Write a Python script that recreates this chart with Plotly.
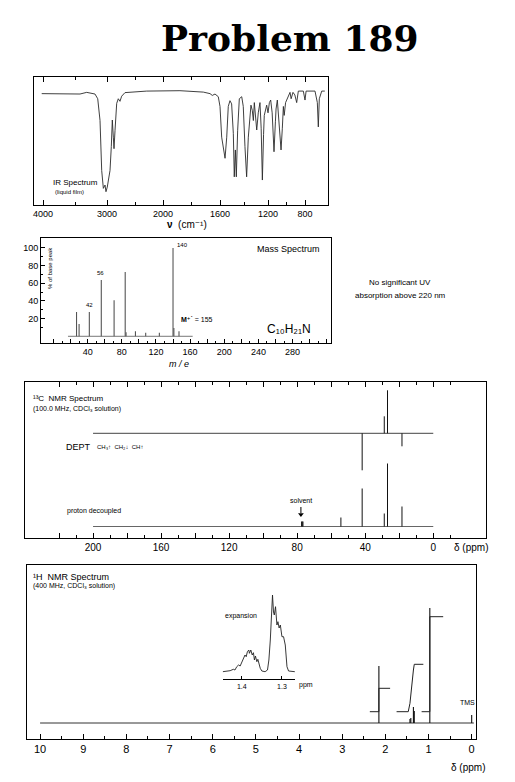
import numpy as np
import plotly.graph_objects as go

W, H = 515, 782

# ---------------- data ----------------
# IR spectrum (wavenumber cm-1, % transmittance)
ir_wavenumber = [4020, 3683, 3422, 3317, 3188, 3145, 3109, 3083, 3057, 3031, 3016, 2995, 2970,
                 2946, 2923, 2905, 2887, 2875, 2857, 2827, 2798, 2768, 2738, 2679, 2291, 1881,
                 1717, 1670, 1654, 1635, 1612, 1600, 1586, 1572, 1558, 1544, 1531, 1517, 1503,
                 1489, 1481, 1472, 1464, 1453, 1439, 1419, 1406, 1392, 1378, 1364, 1350, 1342,
                 1331, 1322, 1314, 1294, 1281, 1267, 1257, 1247, 1237, 1231, 1211, 1200, 1185,
                 1171, 1155, 1135, 1120, 1113, 1099, 1087, 1077, 1059, 1045, 1034, 1025, 1010,
                 998, 980, 962, 950, 930, 910, 890, 872, 818, 800, 790, 709, 688, 679, 670, 648, 620]
ir_transmittance = [87, 86.7, 86.7, 88, 86.7, 83, 66, 27, 13, 15.6, 10.4, 14, 19.5,
                    27, 45.6, 66.4, 53, 44, 58, 79.4, 83, 81, 85, 87.8, 89, 89.3,
                    88.2, 87, 85.6, 86.7, 84.6, 77, 53, 43, 36.5, 53, 77, 81.5, 79,
                    56, 22, 43, 22, 58, 83, 84.6, 77, 45.6, 22, 53, 74, 78,
                    74, 66, 80, 58.6, 72, 80, 60, 19.5, 55, 70, 78, 72, 80,
                    82, 72, 41.6, 65, 75, 82, 72, 64, 43, 60, 77, 70, 80,
                    82, 84.6, 88, 83, 88, 86, 80, 89, 89, 82, 89, 89, 80, 61, 83, 89, 89]
ir_tick_values = [4000, 3000, 2000, 1600, 1200, 800]
ir_minor_values = [3500, 2500, 1800, 1400, 1000]
# non-linear wavenumber scale of the chart (knots)
ir_scale_nu = [4140, 4000, 3000, 2000, 1600, 1200, 800, 591]
ir_scale_u = [0, 9, 73, 129, 186, 234, 271, 294]

# Mass spectrum (m/e, % of base peak)
ms_mz = [27, 30, 42, 56, 71, 84, 85, 96, 108, 124, 140, 141, 147]
ms_int = [27.5, 14, 27.5, 63.7, 40.8, 72.8, 4.5, 5.7, 4, 4, 100, 9.4, 5.7]
ms_tick_labels = [40, 80, 120, 160, 200, 240, 280]

# 13C NMR
c13_shift = [54.3, 41.8, 28.8, 26.9, 18.4]
c13_int = [9, 38, 13, 63, 20]
c13_solvent_shift = [77.4, 77.0, 76.6]
c13_solvent_int = [5, 5, 5]
dept_shift = [41.8, 28.8, 26.9, 18.4]
dept_int = [-37, 17, 43, -13]
c13_tick_labels = [200, 160, 120, 80, 40, 0]

# 1H NMR
h_shift = [2.15, 1.43, 1.41, 1.35, 1.33, 0.97, 0.0]
h_int = [57, 4, 5, 16, 12, 115, 8]
integral1_x = [2.36, 2.15, 2.15, 1.89]
integral1_y = [0, 0, 23.4, 23.4]
integral2_x = [1.74, 1.47, 1.43, 1.41, 1.38, 1.35, 1.33, 1.12]
integral2_y = [0, 0, 8.4, 18.4, 28.4, 41.7, 47.4, 47.4]
integral3_x = [1.16, 0.97, 0.97, 0.66]
integral3_y = [0, 0, 95, 95]
h_tick_labels = list(range(0, 11))

# expansion 1.45-1.25 ppm
exp_shift = [1.4475, 1.429, 1.421, 1.417, 1.4125, 1.408, 1.404, 1.400, 1.396, 1.392, 1.389,
             1.386, 1.3825, 1.381, 1.3775, 1.374, 1.371, 1.3685, 1.366, 1.3625, 1.360, 1.3575,
             1.354, 1.350, 1.342, 1.336, 1.3325, 1.329, 1.326, 1.3235, 1.321, 1.319, 1.316,
             1.3125, 1.310, 1.307, 1.304, 1.300, 1.296, 1.2917, 1.2875, 1.2835, 1.268]
exp_int = [0, 1, 2.4, 1.7, 5, 6.7, 5.7, 10, 12.4, 16.7, 15,
           20, 21.7, 18.4, 21.7, 16.7, 19, 11.7, 15.7, 10, 12.4, 8.4,
           3.4, 0.7, 0, 1.7, 11.7, 31.7, 55, 76.7, 59.7, 56.7, 65,
           46.7, 50, 43.7, 46.7, 35, 35, 26.7, 5, 0.7, 0]

# ---------------- helpers ----------------
def dx(px):
    return px / W

def dy(py):
    return 1 - py / H

def ir_pos(nu):
    return np.interp(-np.asarray(nu, float), -np.array(ir_scale_nu, float), ir_scale_u)

def sticks(xs, hs, base=0.0):
    X, Y = [], []
    for x, h in zip(xs, hs):
        X += [x, x, None]
        Y += [base, base + h, None]
    return X, Y

FONT = "Liberation Sans, DejaVu Sans, Arial, sans-serif"
fig = go.Figure()

# IR
fig.add_trace(go.Scatter(x=ir_pos(ir_wavenumber), y=ir_transmittance, mode="lines",
                         line=dict(color="#2a2a2a", width=0.9), xaxis="x", yaxis="y",
                         hoverinfo="skip"))
# MS
mx, my = sticks(ms_mz, ms_int, 0.0)
fig.add_trace(go.Scatter(x=[17, 163], y=[0, 0], mode="lines", line=dict(color="#777", width=1),
                         xaxis="x2", yaxis="y2"))
fig.add_trace(go.Scatter(x=mx, y=my, mode="lines", line=dict(color="#555", width=1.1),
                         xaxis="x2", yaxis="y2"))
# 13C decoupled
DEC_BASE = 11.5
DEPT_BASE = 104.7
cx, cy = sticks(c13_shift, c13_int, DEC_BASE)
sx, sy = sticks(c13_solvent_shift, c13_solvent_int, DEC_BASE)
fig.add_trace(go.Scatter(x=[200, 0], y=[DEC_BASE, DEC_BASE], mode="lines",
                         line=dict(color="#666", width=1), xaxis="x3", yaxis="y3"))
fig.add_trace(go.Scatter(x=cx + sx, y=cy + sy, mode="lines", line=dict(color="#111", width=1),
                         xaxis="x3", yaxis="y3"))
# DEPT
ddx, ddy = sticks(dept_shift, dept_int, DEPT_BASE)
fig.add_trace(go.Scatter(x=[200, 0], y=[DEPT_BASE, DEPT_BASE], mode="lines",
                         line=dict(color="#444", width=1), xaxis="x3", yaxis="y3"))
fig.add_trace(go.Scatter(x=ddx, y=ddy, mode="lines", line=dict(color="#111", width=1),
                         xaxis="x3", yaxis="y3"))
# solvent arrow (stem + head) on the 13C axes
fig.add_trace(go.Scatter(x=[77.8, 77.8], y=[31, 25], mode="lines", line=dict(color="black", width=1),
                         xaxis="x3", yaxis="y3"))
fig.add_trace(go.Scatter(x=[77.8], y=[23.5], mode="markers",
                         marker=dict(symbol="triangle-down", size=5, color="black"),
                         xaxis="x3", yaxis="y3"))
# 1H
H_BASE = 16.0
INT_BASE = 27.3
hx, hy = sticks(h_shift, h_int, H_BASE)
fig.add_trace(go.Scatter(x=[10, -0.05], y=[H_BASE, H_BASE], mode="lines",
                         line=dict(color="#333", width=1), xaxis="x4", yaxis="y4"))
fig.add_trace(go.Scatter(x=hx, y=hy, mode="lines", line=dict(color="#111", width=1.1),
                         xaxis="x4", yaxis="y4"))
for ix, iy in [(integral1_x, integral1_y), (integral2_x, integral2_y), (integral3_x, integral3_y)]:
    fig.add_trace(go.Scatter(x=ix, y=[INT_BASE + v for v in iy], mode="lines",
                             line=dict(color="#222", width=1), xaxis="x4", yaxis="y4"))
# expansion
fig.add_trace(go.Scatter(x=exp_shift, y=exp_int, mode="lines", line=dict(color="#222", width=0.9),
                         xaxis="x5", yaxis="y5"))
# dummy traces so the overlay tick axes are drawn
fig.add_trace(go.Scatter(x=[100], y=[-50], mode="markers", opacity=0, xaxis="x6", yaxis="y3"))
fig.add_trace(go.Scatter(x=[100], y=[-50], mode="markers", opacity=0, xaxis="x7", yaxis="y2"))

axis_common = dict(showline=True, linecolor="black", linewidth=1, showgrid=False, zeroline=False,
                   tickfont=dict(family=FONT, size=9, color="black"), tickcolor="black")

layout = dict(
    width=W, height=H, margin=dict(l=0, r=0, t=0, b=0),
    paper_bgcolor="white", plot_bgcolor="white", showlegend=False,
    xaxis=dict(axis_common, domain=[dx(34), dx(328)], range=[0, 294], anchor="y",
               tickmode="array", tickvals=list(ir_pos(ir_tick_values)),
               ticktext=[str(v) for v in ir_tick_values], ticks="inside", ticklen=5,
               mirror="allticks",
               minor=dict(tickmode="array", tickvals=list(ir_pos(ir_minor_values)),
                          ticks="inside", ticklen=3, tickcolor="black")),
    yaxis=dict(axis_common, domain=[dy(205), dy(77)], range=[0, 100], anchor="x",
               showticklabels=False, ticks="", mirror=True),
    xaxis2=dict(axis_common, domain=[dx(41), dx(331)], range=[-14.6, 325], anchor="y2",
                tickmode="array", tickvals=ms_tick_labels,
                ticks="inside", ticklen=4, mirror=True,
                minor=dict(tickmode="array", tickvals=list(range(10, 321, 20)), ticks="inside",
                           ticklen=2, tickcolor="black")),
    xaxis7=dict(domain=[dx(41), dx(331)], range=[-14.6, 325], anchor="y2", overlaying="x2",
                tickmode="array", tickvals=[0, 20, 60, 100, 140, 180, 220, 260, 300, 320],
                ticks="inside", ticklen=4, tickcolor="black", showticklabels=False,
                showline=False, showgrid=False, zeroline=False),
    yaxis2=dict(axis_common, domain=[dy(343), dy(238)], range=[-7.6, 111.3], anchor="x2",
                tickmode="array", tickvals=[20, 40, 60, 80, 100], ticks="inside", ticklen=4,
                mirror=True,
                minor=dict(tickmode="array", tickvals=[10, 30, 50, 70, 90], ticks="inside",
                           ticklen=2, tickcolor="black")),
    xaxis3=dict(axis_common, domain=[dx(25), dx(486)], range=[240, -31], anchor="y3",
                tickmode="array", tickvals=c13_tick_labels,
                ticks="inside", ticklen=5, mirror="allticks",
                tickfont=dict(family=FONT, size=10, color="black"),
                minor=dict(tickmode="array", tickvals=list(range(-10, 221, 20)), ticks="inside",
                           ticklen=3, tickcolor="black")),
    xaxis6=dict(domain=[dx(25), dx(486)], range=[240, -31], anchor="y3", overlaying="x3",
                tickmode="array", tickvals=[220, 180, 140, 100, 60, 20],
                ticks="inside", ticklen=5, tickcolor="black", showticklabels=False,
                showline=False, showgrid=False, zeroline=False, mirror="allticks"),
    yaxis3=dict(axis_common, domain=[dy(538), dy(382)], range=[0, 156], anchor="x3",
                showticklabels=False, ticks="", mirror=True),
    xaxis4=dict(axis_common, domain=[dx(26.7), dx(476)], range=[10.31, -0.1], anchor="y4",
                tickmode="array", tickvals=h_tick_labels, ticks="inside", ticklen=5,
                mirror=True, tickfont=dict(family=FONT, size=11, color="black"),
                minor=dict(tickmode="array", tickvals=[i + 0.5 for i in range(10)],
                           ticks="inside", ticklen=3, tickcolor="black")),
    yaxis4=dict(axis_common, domain=[dy(739), dy(565)], range=[0, 174], anchor="x4",
                showticklabels=False, ticks="", mirror=True),
    xaxis5=dict(axis_common, domain=[dx(222.7), dx(295)], range=[1.4475, 1.2675], anchor="y5",
                tickmode="array", tickvals=[1.4, 1.3], ticktext=["1.4", "1.3"], ticks="inside",
                ticklen=3, linewidth=0.8, tickfont=dict(family=FONT, size=7, color="black")),
    yaxis5=dict(domain=[dy(679.3), dy(590)], range=[-7.6, 81.7], anchor="x5", visible=False),
)
fig.update_layout(**layout)

def ann(text, px, py, size, xanchor="center", yanchor="middle", **kw):
    font = kw.pop("font", dict(family=FONT, size=size, color="black"))
    fig.add_annotation(text=text, x=dx(px), y=dy(py), xref="paper", yref="paper",
                       xanchor=xanchor, yanchor=yanchor, showarrow=False, font=font, **kw)

ann("<b>Problem 189</b>", 290, 38, 36,
    font=dict(family="DejaVu Serif, serif", size=36, color="black"))
# IR
ann("IR Spectrum", 51, 183, 8, xanchor="left")
ann("(liquid film)", 69, 192, 6)
ann("<b>ν</b>  (cm⁻¹)", 187, 224, 10)
# MS
ann("Mass Spectrum", 288, 249, 9)
ann("140", 175, 245, 6, xanchor="left")
ann("56", 100.7, 273, 6)
ann("42", 89, 305, 6)
ann("<b>M⁺˙</b> = 155", 179, 320, 7, xanchor="left")
ann("C₁₀H₂₁N", 289, 329, 12)
ann("% of base peak", 50, 268, 6, textangle=-90)
ann("<i>m / e</i>", 179, 364, 9)
# UV
ann("No significant UV", 400, 282, 8)
ann("absorption above 220 nm", 400, 295, 8)
# 13C
ann("¹³C  NMR Spectrum", 31, 398, 8, xanchor="left")
ann("(100.0 MHz, CDCl₃ solution)", 31, 409, 7, xanchor="left")
ann("DEPT", 64, 447, 9, xanchor="left")
ann("CH₃↑  CH₂↓  CH↑", 95, 447, 6, xanchor="left")
ann("proton decoupled", 65, 511.5, 7, xanchor="left")
ann("solvent", 300.7, 500.5, 7)
ann("δ (ppm)", 452, 547, 10, xanchor="left")
# 1H
ann("¹H  NMR Spectrum", 31, 577, 9, xanchor="left")
ann("(400 MHz, CDCl₃ solution)", 31, 586, 7, xanchor="left")
ann("expansion", 241, 615.5, 7)
ann("ppm", 297, 685, 7, xanchor="left")
ann("TMS", 467, 702, 7)
ann("δ (ppm)", 487, 767, 10, xanchor="right")

fig.write_html("out.html", config={"displayModeBar": False},
               post_script="document.body.style.margin='0';document.body.style.padding='0';")
